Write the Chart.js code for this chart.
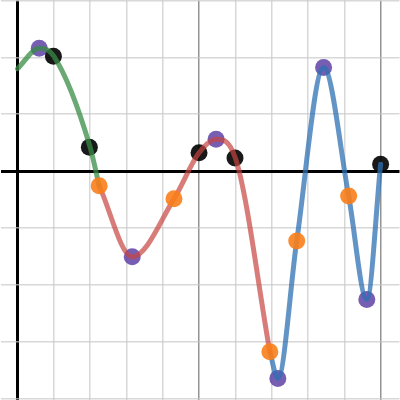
<!DOCTYPE html>
<html><head><style>html,body{margin:0;padding:0;background:#fff;overflow:hidden}#w{width:416px;height:416px;position:absolute;left:-8px;top:-8px}</style>
<script src="https://cdn.jsdelivr.net/npm/chart.js@4"></script></head>
<body><div id="w"><canvas id="c"></canvas></div>
<script>
const greenX=[0,0.6,1,2,2.25], greenY=[1.8,2.16,2.02,0.42,-0.26];
const redX=[2.25,3.16,4.31,5.0,5.47,6.0,6.95], redY=[-0.26,-1.51,-0.49,0.32,0.56,0.23,-3.18];
const blueX=[6.95,7.17,7.69,8.43,9.12,9.62,10], blueY=[-3.18,-3.65,-1.23,1.82,-0.44,-2.26,0.12];
const purpleX=[0.6,3.16,5.47,7.17,8.43,9.62], purpleY=[2.16,-1.51,0.56,-3.65,1.82,-2.26];
const blackX=[0.99,1.98,5,5.99,10], blackY=[2.02,0.42,0.32,0.23,0.12];
const orangeX=[2.25,4.31,6.95,7.69,9.12], orangeY=[-0.26,-0.49,-3.18,-1.23,-0.44];
const xTicks=[0,1,2,3,4,5,6,7,8,9,10], yTicks=[-4,-3,-2,-1,0,1,2,3];
const pts=(xs,ys)=>xs.map((x,i)=>({x,y:ys[i]}));
const line=(xs,ys,c)=>({type:'line',data:pts(xs,ys),borderColor:c,borderWidth:5,borderCapStyle:'round',pointRadius:0,cubicInterpolationMode:'monotone',fill:false,clip:false});
const dots=(xs,ys,c)=>({type:'scatter',data:pts(xs,ys),backgroundColor:c,borderWidth:0,pointRadius:8.5,clip:false});
const gridColor=ctx=>{const v=ctx.tick.value;if(Math.abs(v)<1e-9)return '#000';if(Math.abs(v%5)<1e-9)return 'rgba(120,120,120,0.8)';return 'rgba(200,200,200,0.7)';};
const gridWidth=ctx=>Math.abs(ctx.tick.value)<1e-9?3:1.5;
const mk=(min,max,ticks,horiz)=>({type:'linear',min,max,
  afterBuildTicks:s=>{s.ticks=ticks.map(v=>({value:v}));},
  afterFit:s=>{if(horiz)s.height=0;else s.width=0;},
  ticks:{display:false},border:{display:false},grid:{color:gridColor,lineWidth:gridWidth,drawTicks:false,tickLength:0}});
new Chart(document.getElementById('c'),{
 data:{datasets:[
  dots(orangeX,orangeY,'rgba(250,126,25,0.9)'),
  line(greenX,greenY,'rgba(56,140,70,0.75)'),
  line(redX,redY,'rgba(199,68,64,0.7)'),
  line(blueX,blueY,'rgba(45,112,179,0.75)'),
  dots(blackX,blackY,'rgba(0,0,0,0.9)'),
  dots(purpleX,purpleY,'rgba(96,66,166,0.85)')
 ]},
 options:{responsive:true,maintainAspectRatio:false,animation:false,layout:{padding:0},
  plugins:{legend:{display:false},tooltip:{enabled:false}},
  scales:{x:mk(-0.467,10.52,xTicks,true),y:mk(-4.02,3.0,yTicks,false)}}
});
</script></body></html>
